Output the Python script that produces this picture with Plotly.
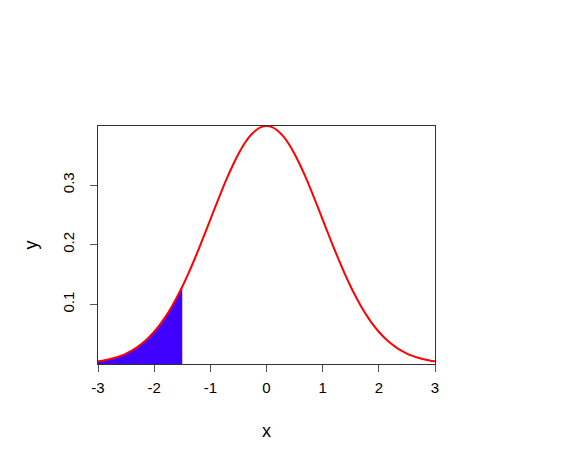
import plotly.graph_objects as go

# Standard normal density
x_vals = [-3.0, -2.9, -2.8, -2.7, -2.6, -2.5, -2.4, -2.3, -2.2, -2.1, -2.0, -1.9, -1.8, -1.7, -1.6,
          -1.5, -1.4, -1.3, -1.2, -1.1, -1.0, -0.9, -0.8, -0.7, -0.6, -0.5, -0.4, -0.3, -0.2, -0.1,
          0.0, 0.1, 0.2, 0.3, 0.4, 0.5, 0.6, 0.7, 0.8, 0.9, 1.0, 1.1, 1.2, 1.3, 1.4,
          1.5, 1.6, 1.7, 1.8, 1.9, 2.0, 2.1, 2.2, 2.3, 2.4, 2.5, 2.6, 2.7, 2.8, 2.9, 3.0]
y_vals = [0.0044, 0.0060, 0.0079, 0.0104, 0.0136, 0.0175, 0.0224, 0.0283, 0.0355, 0.0440, 0.0540, 0.0656,
          0.0790, 0.0940, 0.1109, 0.1295, 0.1497, 0.1714, 0.1942, 0.2179, 0.2420, 0.2661, 0.2897, 0.3123,
          0.3332, 0.3521, 0.3683, 0.3814, 0.3910, 0.3970,
          0.3989, 0.3970, 0.3910, 0.3814, 0.3683, 0.3521, 0.3332, 0.3123, 0.2897, 0.2661, 0.2420, 0.2179,
          0.1942, 0.1714, 0.1497, 0.1295, 0.1109, 0.0940, 0.0790, 0.0656, 0.0540, 0.0440, 0.0355, 0.0283,
          0.0224, 0.0175, 0.0136, 0.0104, 0.0079, 0.0060, 0.0044]

shade_x = [-3.0, -2.9, -2.8, -2.7, -2.6, -2.5, -2.4, -2.3, -2.2, -2.1, -2.0, -1.9, -1.8, -1.7, -1.6, -1.5]
shade_y = [0.0044, 0.0060, 0.0079, 0.0104, 0.0136, 0.0175, 0.0224, 0.0283, 0.0355, 0.0440, 0.0540, 0.0656,
           0.0790, 0.0940, 0.1109, 0.1295]

x_ticks = [-3, -2, -1, 0, 1, 2, 3]
y_ticks = [0.1, 0.2, 0.3]

fig = go.Figure()
fig.add_trace(go.Scatter(x=shade_x, y=shade_y, mode="lines", line=dict(width=0, color="#4000FF", shape="spline"),
                         fill="tozeroy", fillcolor="#4000FF", hoverinfo="skip", showlegend=False))
fig.add_trace(go.Scatter(x=x_vals, y=y_vals, mode="lines", line=dict(color="#FF0000", width=2, shape="spline"),
                         showlegend=False))

axis_common = dict(showline=True, linecolor="#333333", linewidth=1, mirror=True, showgrid=False, zeroline=False,
                   ticks="outside", ticklen=7, tickcolor="#555555", tickwidth=1, automargin=False,
                   tickfont=dict(family="Liberation Sans, Arial", size=15, color="#000000"))

fig.update_layout(
    width=572, height=458,
    margin=dict(l=90, r=145, t=118, b=102),
    paper_bgcolor="white", plot_bgcolor="white",
    font=dict(family="Liberation Sans, Arial", size=15, color="#000000"),
    xaxis=dict(range=[-3, 3], tickvals=x_ticks, ticktext=[str(t) for t in x_ticks], ticklabelstandoff=3,
               title=dict(text="x", standoff=29), **axis_common),
    yaxis=dict(range=[0, 0.3989], tickvals=y_ticks, ticktext=[str(t) for t in y_ticks], tickangle=-90,
               ticklabelstandoff=10, title=dict(text="y", standoff=17), **axis_common),
)

fig.write_html("out.html")
